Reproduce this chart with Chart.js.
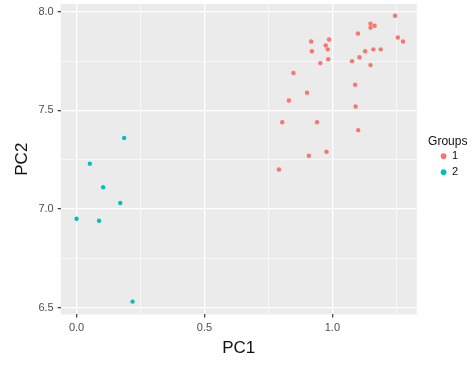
<!DOCTYPE html>
<html>
<head>
<meta charset="utf-8">
<script src="https://cdn.jsdelivr.net/npm/chart.js@4"></script>
<style>
  html, body { margin: 0; padding: 0; background: #fff; }
  #wrap { width: 474px; height: 367px; }
</style>
</head>
<body>
<div id="wrap"><canvas id="pca"></canvas></div>
<script>
// group 1 (red)
const g1PC1 = [1.245, 1.149, 1.165, 1.149, 1.100, 1.256, 1.276, 0.917, 0.987, 0.974, 0.982, 0.920,
               1.160, 1.189, 1.128, 0.984, 1.106, 1.077, 0.953, 1.149, 0.848, 1.089, 0.901, 0.830,
               1.091, 0.804, 0.940, 1.101, 0.977, 0.908, 0.791];
const g1PC2 = [7.98, 7.94, 7.93, 7.92, 7.89, 7.87, 7.85, 7.85, 7.86, 7.83, 7.81, 7.80,
               7.81, 7.81, 7.80, 7.76, 7.77, 7.75, 7.74, 7.73, 7.69, 7.63, 7.59, 7.55,
               7.52, 7.44, 7.44, 7.40, 7.29, 7.27, 7.20];
// group 2 (cyan)
const g2PC1 = [0.186, 0.052, 0.104, 0.171, 0.000, 0.088, 0.219];
const g2PC2 = [7.36, 7.23, 7.11, 7.03, 6.95, 6.94, 6.53];

const groups = ['1', '2'];
const legendTitle = 'Groups';
const xTicks = [0, 0.25, 0.5, 0.75, 1.0, 1.25];
const yTicks = [6.5, 6.75, 7.0, 7.25, 7.5, 7.75, 8.0];

const pts = (xs, ys) => xs.map((x, i) => ({ x: x, y: ys[i] }));
const isMajor = v => Math.abs(v * 2 - Math.round(v * 2)) < 1e-6;

// grey panel like ggplot
const panelBg = {
    id: 'panelBg',
    beforeDraw(chart) {
        const a = chart.chartArea, c = chart.ctx;
        c.save();
        c.fillStyle = '#ebebeb';
        c.fillRect(a.left, a.top, a.right - a.left, a.bottom - a.top);
        c.restore();
    }
};

// nudge the legend down and write its title (the built-in one gets clipped)
const legendTweak = {
    id: 'legendTweak',
    afterLayout(chart) {
        const lg = chart.legend;
        lg.top += 5;
        lg.bottom += 5;
    },
    afterDraw(chart) {
        const lg = chart.legend, hb = lg.legendHitBoxes[0], c = chart.ctx;
        c.save();
        c.font = '12px "Liberation Sans"';
        c.fillStyle = '#111';
        c.textAlign = 'center';
        c.textBaseline = 'middle';
        c.fillText(legendTitle, lg.left + 12, hb.top + hb.height / 2 - 14.6);
        c.restore();
    }
};

const tickFont = { family: 'Liberation Sans', size: 11 };

const gridOpts = {
    color: '#ffffff',
    lineWidth: ctx => isMajor(ctx.tick.value) ? 1.3 : 0.6,
    tickColor: ctx => isMajor(ctx.tick.value) ? '#444444' : 'rgba(0,0,0,0)',
    tickLength: 3,
    drawTicks: true
};

new Chart(document.getElementById('pca'), {
    type: 'scatter',
    data: {
        datasets: [
            { label: groups[0], data: pts(g1PC1, g1PC2), backgroundColor: '#F8766D', borderWidth: 0, pointRadius: 2.2 },
            { label: groups[1], data: pts(g2PC1, g2PC2), backgroundColor: '#00BFC4', borderWidth: 0, pointRadius: 2.2 }
        ]
    },
    options: {
        responsive: true,
        maintainAspectRatio: false,
        animation: false,
        layout: { padding: { top: 3, left: 10, right: 6, bottom: 8 } },
        plugins: {
            tooltip: { enabled: false },
            legend: {
                position: 'right',
                fullSize: false,
                labels: {
                    usePointStyle: true, pointStyle: 'circle', boxWidth: 5.6, boxHeight: 4,
                    color: '#111', font: { family: 'Liberation Sans', size: 11 }, padding: 5
                }
            }
        },
        scales: {
            x: {
                type: 'linear', min: -0.062, max: 1.33,
                afterBuildTicks: s => { s.ticks = xTicks.map(v => ({ value: v })); },
                ticks: {
                    font: tickFont, color: '#4d4d4d', padding: 4, maxRotation: 0,
                    callback: v => isMajor(v) ? v.toFixed(1) : ''
                },
                grid: gridOpts,
                border: { display: false },
                title: { display: true, text: 'PC1', color: '#111', font: { family: 'Liberation Sans', size: 17 }, padding: { top: 0, bottom: 0 } }
            },
            y: {
                type: 'linear', min: 6.465, max: 8.04,
                afterBuildTicks: s => { s.ticks = yTicks.map(v => ({ value: v })); },
                afterFit: s => { s.paddingTop = 0; },
                ticks: {
                    font: tickFont, color: '#4d4d4d', padding: 4,
                    callback: v => isMajor(v) ? v.toFixed(1) : ''
                },
                grid: gridOpts,
                border: { display: false },
                title: { display: true, text: 'PC2', color: '#111', font: { family: 'Liberation Sans', size: 17 }, padding: { top: 2, bottom: 2 } }
            },
            // empty spacer between panel and legend
            gap: {
                type: 'linear', position: 'right', display: true,
                ticks: { display: false }, grid: { display: false }, border: { display: false },
                afterFit: s => { s.width = 19; }
            }
        }
    },
    plugins: [panelBg, legendTweak]
});
</script>
</body>
</html>
